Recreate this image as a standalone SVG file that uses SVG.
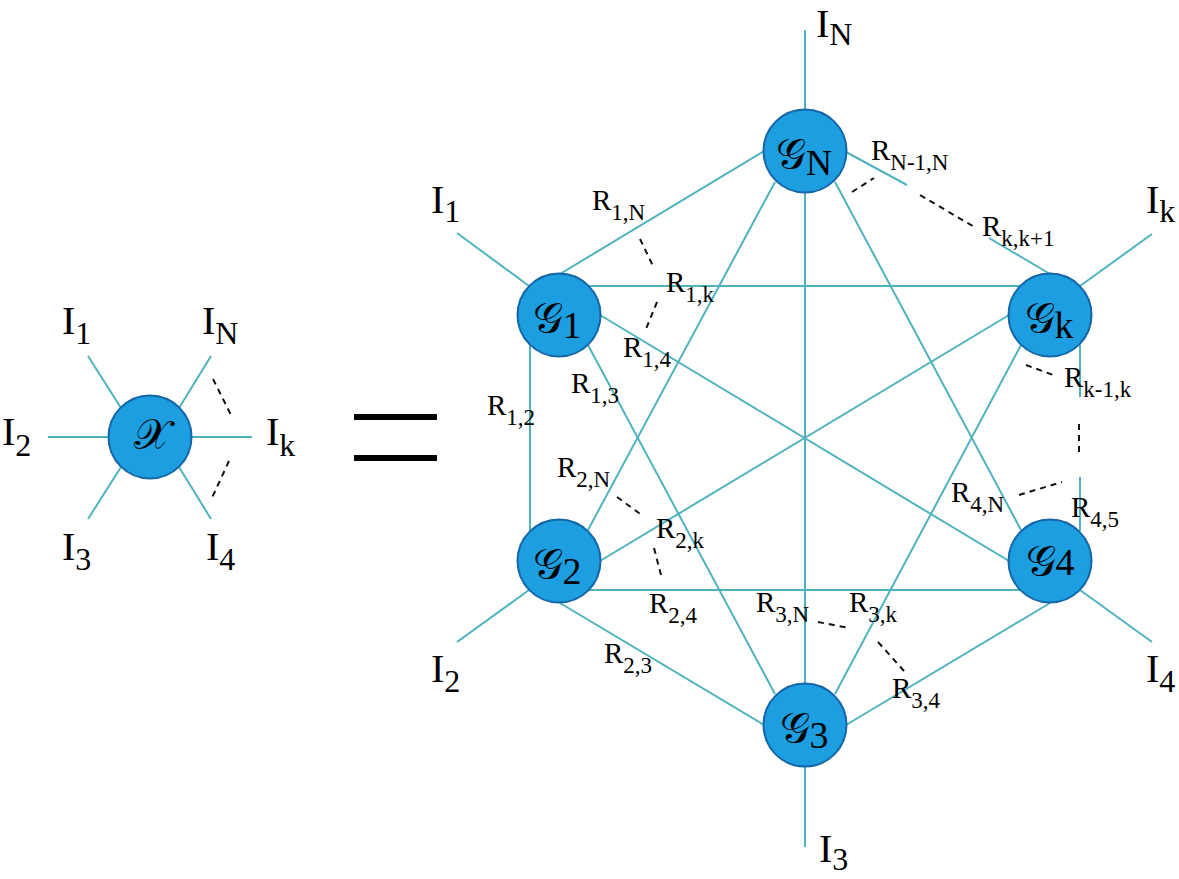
<svg xmlns="http://www.w3.org/2000/svg" width="1179" height="879" viewBox="0 0 1179 879">
<style>
.ln{stroke:#4fb3bf;stroke-width:2;fill:none;stroke-linecap:butt}
.ds{stroke:#111;stroke-width:2;fill:none;stroke-dasharray:6 5}
.nd{fill:#1c9ee0;stroke:#1566a6;stroke-width:2}
.t{font-family:"Liberation Serif","Times New Roman",serif;fill:#000}
.I{font-size:40px}
.R{font-size:29px}
.g{font-family:"Liberation Serif","DejaVu Serif","DejaVu Sans","Noto Sans",serif;font-size:42px;fill:#000}
</style>
<rect width="1179" height="879" fill="#fff"/>
<g id="connectors">
<line class="ln" x1="88" y1="356" x2="121" y2="408"/>
<line class="ln" x1="211" y1="356" x2="179" y2="408"/>
<line class="ln" x1="48" y1="437" x2="109" y2="437"/>
<line class="ln" x1="191" y1="437" x2="252" y2="437"/>
<line class="ln" x1="88" y1="519" x2="121" y2="467"/>
<line class="ln" x1="211" y1="519" x2="179" y2="467"/>
<line class="ds" x1="213" y1="379" x2="232" y2="417"/>
<line class="ds" x1="229" y1="461" x2="211" y2="500"/>
<line class="ln" x1="805" y1="30" x2="805" y2="110"/>
<line class="ln" x1="805" y1="766" x2="805" y2="847"/>
<line class="ln" x1="457" y1="233" x2="529" y2="286"/>
<line class="ln" x1="1152" y1="234" x2="1080" y2="286"/>
<line class="ln" x1="457" y1="642" x2="529" y2="590"/>
<line class="ln" x1="1152" y1="642" x2="1080" y2="590"/>
<line class="ln" x1="560" y1="274" x2="764" y2="151"/>
<line class="ln" x1="846" y1="152" x2="907" y2="185"/>
<line class="ln" x1="989" y1="238" x2="1050" y2="274"/>
<line class="ln" x1="805" y1="193" x2="805" y2="683"/>
<line class="ln" x1="775" y1="182" x2="588" y2="530"/>
<line class="ln" x1="835" y1="182" x2="1021" y2="530"/>
<line class="ln" x1="588" y1="345" x2="775" y2="694"/>
<line class="ln" x1="1021" y1="345" x2="835" y2="694"/>
<line class="ln" x1="589" y1="286" x2="1021" y2="286"/>
<line class="ln" x1="589" y1="590" x2="1021" y2="590"/>
<line class="ln" x1="600" y1="315" x2="1009" y2="561"/>
<line class="ln" x1="600" y1="561" x2="1009" y2="315"/>
<line class="ln" x1="530" y1="345" x2="530" y2="531"/>
<line class="ln" x1="1080" y1="345" x2="1080" y2="397"/>
<line class="ln" x1="1080" y1="477" x2="1080" y2="531"/>
<line class="ln" x1="560" y1="603" x2="764" y2="725"/>
<line class="ln" x1="846" y1="725" x2="1050" y2="603"/>
<line class="ds" x1="1079" y1="424" x2="1079" y2="455"/>
<line class="ds" x1="852" y1="192" x2="874" y2="178"/>
<line class="ds" x1="920" y1="195" x2="976" y2="228"/>
<line class="ds" x1="640" y1="239" x2="654" y2="268"/>
<line class="ds" x1="657" y1="302" x2="646" y2="329"/>
<line class="ds" x1="617" y1="497" x2="643" y2="516"/>
<line class="ds" x1="654" y1="548" x2="662" y2="579"/>
<line class="ds" x1="818" y1="622" x2="849" y2="628"/>
<line class="ds" x1="878" y1="642" x2="905" y2="672"/>
<line class="ds" x1="1019" y1="495" x2="1062" y2="482"/>
<line class="ds" x1="1026" y1="365" x2="1056" y2="376"/>
</g>
<g id="equals">
<rect x="354" y="414" width="83" height="6" fill="#000"/>
<rect x="354" y="455" width="83" height="6" fill="#000"/>
</g>
<g id="node-X">
<circle class="nd" cx="150" cy="437" r="41.5"/>
<text class="g" x="152" y="449" text-anchor="middle" font-size="44">𝒳</text>
</g>
<g id="node-GN">
<circle class="nd" cx="805" cy="151" r="41.5"/>
<text class="g" x="804" y="168" text-anchor="middle">𝒢<tspan dy="7" font-size="36">N</tspan></text>
</g>
<g id="node-G1">
<circle class="nd" cx="559" cy="315" r="41.5"/>
<text class="g" x="557" y="332" text-anchor="middle">𝒢<tspan dy="6" font-size="38">1</tspan></text>
</g>
<g id="node-Gk">
<circle class="nd" cx="1050" cy="315" r="41.5"/>
<text class="g" x="1049" y="332" text-anchor="middle">𝒢<tspan dy="6" font-size="38">k</tspan></text>
</g>
<g id="node-G2">
<circle class="nd" cx="559" cy="561" r="41.5"/>
<text class="g" x="557" y="578" text-anchor="middle">𝒢<tspan dy="6" font-size="38">2</tspan></text>
</g>
<g id="node-G4">
<circle class="nd" cx="1050" cy="561" r="41.5"/>
<text class="g" x="1050" y="575" text-anchor="middle">𝒢<tspan font-size="38">4</tspan></text>
</g>
<g id="node-G3">
<circle class="nd" cx="805" cy="725" r="41.5"/>
<text class="g" x="804" y="742" text-anchor="middle">𝒢<tspan dy="6" font-size="38">3</tspan></text>
</g>
<g id="labels-left">
<text class="t I" x="62" y="334">I<tspan dy="10" font-size="32">1</tspan></text>
<text class="t I" x="202" y="334">I<tspan dy="10" font-size="32">N</tspan></text>
<text class="t I" x="2" y="445">I<tspan dy="11" font-size="32">2</tspan></text>
<text class="t I" x="266" y="445">I<tspan dy="11" font-size="32">k</tspan></text>
<text class="t I" x="62" y="560">I<tspan dy="10" font-size="32">3</tspan></text>
<text class="t I" x="206" y="560">I<tspan dy="10" font-size="32">4</tspan></text>
</g>
<g id="labels-main">
<text class="t I" x="816" y="37">I<tspan dy="8" font-size="32">N</tspan></text>
<text class="t I" x="431" y="213">I<tspan dy="9" font-size="32">1</tspan></text>
<text class="t I" x="1146" y="213">I<tspan dy="9" font-size="32">k</tspan></text>
<text class="t I" x="431" y="682">I<tspan dy="10" font-size="32">2</tspan></text>
<text class="t I" x="1146" y="682">I<tspan dy="10" font-size="32">4</tspan></text>
<text class="t I" x="819" y="862">I<tspan dy="8" font-size="32">3</tspan></text>
<text class="t R" x="592" y="210">R<tspan dy="10" font-size="23">1,N</tspan></text>
<text class="t R" x="666" y="292">R<tspan dy="10" font-size="23">1,k</tspan></text>
<text class="t R" x="623" y="357">R<tspan dy="10" font-size="23">1,4</tspan></text>
<text class="t R" x="571" y="393">R<tspan dy="10" font-size="23">1,3</tspan></text>
<text class="t R" x="487" y="415">R<tspan dy="10" font-size="23">1,2</tspan></text>
<text class="t R" x="557" y="477">R<tspan dy="10" font-size="23">2,N</tspan></text>
<text class="t R" x="656" y="538">R<tspan dy="10" font-size="23">2,k</tspan></text>
<text class="t R" x="649" y="613">R<tspan dy="10" font-size="23">2,4</tspan></text>
<text class="t R" x="604" y="663">R<tspan dy="10" font-size="23">2,3</tspan></text>
<text class="t R" x="756" y="612">R<tspan dy="10" font-size="23">3,N</tspan></text>
<text class="t R" x="849" y="612">R<tspan dy="10" font-size="23">3,k</tspan></text>
<text class="t R" x="892" y="698">R<tspan dy="10" font-size="23">3,4</tspan></text>
<text class="t R" x="951" y="502">R<tspan dy="10" font-size="23">4,N</tspan></text>
<text class="t R" x="1071" y="517">R<tspan dy="10" font-size="23">4,5</tspan></text>
<text class="t R" x="1064" y="387">R<tspan dy="10" font-size="23">k-1,k</tspan></text>
<text class="t R" x="982" y="236">R<tspan dy="10" font-size="23">k,k+1</tspan></text>
<text class="t R" x="871" y="160">R<tspan dy="10" font-size="23">N-1,N</tspan></text>
</g>
</svg>
